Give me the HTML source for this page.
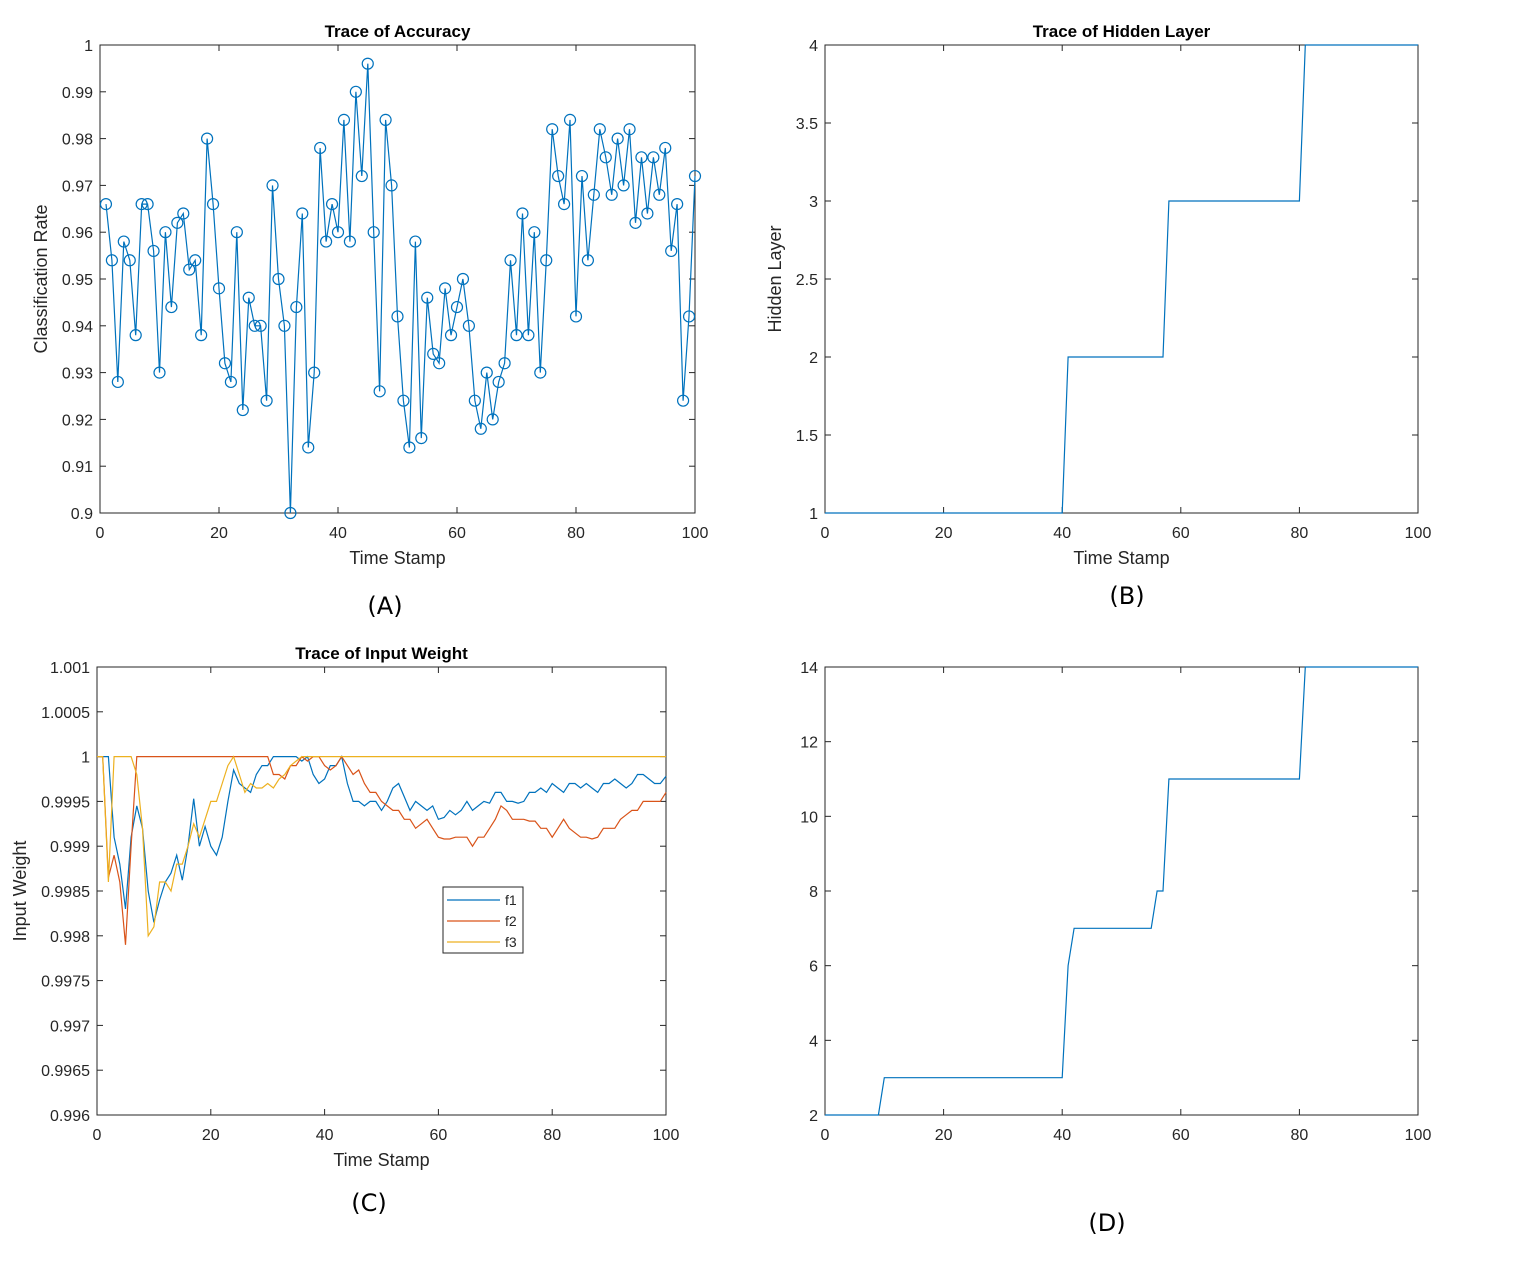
<!DOCTYPE html>
<html><head><meta charset="utf-8"><style>
body{margin:0;background:#fff}
svg{display:block;font-family:"Liberation Sans",Arial,sans-serif}
</style></head><body>
<svg id="s" width="1515" height="1287" xmlns="http://www.w3.org/2000/svg"></svg>
<script>
const timeA=[];for(let i=1;i<=100;i++)timeA.push(i);
const accuracy=[.966,.954,.928,.958,.954,.938,.966,.966,.956,.930,.960,.944,.962,.964,.952,.954,.938,.980,.966,.948,.932,.928,.960,.922,.946,.940,.940,.924,.970,.950,.940,.900,.944,.964,.914,.930,.978,.958,.966,.960,.984,.958,.990,.972,.996,.960,.926,.984,.970,.942,.924,.914,.958,.916,.946,.934,.932,.948,.938,.944,.950,.940,.924,.918,.930,.920,.928,.932,.954,.938,.964,.938,.960,.930,.954,.982,.972,.966,.984,.942,.972,.954,.968,.982,.976,.968,.980,.970,.982,.962,.976,.964,.976,.968,.978,.956,.966,.924,.942,.972];
const timeC=[];for(let i=0;i<=100;i++)timeC.push(i);
const f1=[1,1,1,.9991,.9988,.9983,.9991,.99945,.9992,.9985,.99815,.9984,.9986,.9987,.9989,.99862,.9990,.99953,.9990,.99922,.9990,.9989,.9991,.9995,.99985,.9997,.99965,.9996,.9998,.9999,.9999,1,1,1,1,1,.99995,1,.9998,.9997,.99975,.9999,.9999,1,.9997,.9995,.9995,.99945,.9995,.9995,.9994,.9995,.99965,.9997,.99955,.9994,.9995,.99945,.9994,.99945,.9993,.99932,.9994,.99935,.9994,.9995,.9994,.99945,.9995,.99948,.9996,.9996,.9995,.9995,.99948,.9995,.9996,.9996,.99965,.9996,.9997,.99965,.9996,.9997,.9997,.99965,.9997,.99965,.9996,.9997,.9997,.99975,.9997,.99965,.9997,.9998,.9998,.99975,.9997,.9997,.99978];
const f2=[1,1,.99865,.9989,.9986,.9979,.9990,1,1,1,1,1,1,1,1,1,1,1,1,1,1,1,1,1,1,1,1,1,1,1,1,.9998,.9998,.99975,.9999,.9999,1,.99995,1,1,.9999,.99985,.9999,1,.9999,.9998,.99985,.9997,.9996,.9996,.9995,.99945,.9994,.9994,.9993,.9993,.9992,.99925,.9993,.9992,.9991,.99908,.99908,.9991,.9991,.9991,.9990,.9991,.9991,.9992,.9993,.99945,.9994,.9993,.9993,.9993,.99928,.99928,.9992,.9992,.9991,.9992,.9993,.9992,.99915,.9991,.9991,.99908,.9991,.9992,.9992,.9992,.9993,.99935,.9994,.9994,.9995,.9995,.9995,.9995,.9996];
const f3=[1,1,.9986,1,1,1,1,.9998,.9992,.9980,.9981,.9986,.9986,.9985,.9988,.9988,.9990,.99925,.9991,.9993,.9995,.9995,.9997,.9999,1,.9998,.9996,.9997,.99965,.99965,.9997,.99965,.99975,.9998,.9999,.99995,1,1,1,1,1,1,1,1,1,1,1,1,1,1,1,1,1,1,1,1,1,1,1,1,1,1,1,1,1,1,1,1,1,1,1,1,1,1,1,1,1,1,1,1,1,1,1,1,1,1,1,1,1,1,1,1,1,1,1,1,1,1,1,1,1];
const hidden=[];for(let i=0;i<=100;i++)hidden.push(i<=40?1:i<=57?2:i<=80?3:4);
const nodes=[];for(let i=0;i<=100;i++)nodes.push(i<=9?2:i<=40?3:i==41?6:i<=55?7:i<=57?8:i<=80?11:14);
const ticksX=[0,20,40,60,80,100];
const ticksA=[0.9,0.91,0.92,0.93,0.94,0.95,0.96,0.97,0.98,0.99,1];
const ticksB=[1,1.5,2,2.5,3,3.5,4];
const ticksC=[0.996,0.9965,0.997,0.9975,0.998,0.9985,0.999,0.9995,1,1.0005,1.001];
const ticksD=[2,4,6,8,10,12,14];

const S=document.getElementById('s');const NS='http://www.w3.org/2000/svg';
function el(t,a,p){const e=document.createElementNS(NS,t);for(const k in a)e.setAttribute(k,a[k]);(p||S).appendChild(e);return e;}
function txt(x,y,s,a,p){const e=el('text',Object.assign({x:x,y:y,'font-size':16,fill:'#262626','text-anchor':'middle'},a||{}),p);e.textContent=s;return e;}
function panel(name,L,R,T,B,xmin,xmax,ymin,ymax,yt,title,xl,yl){
 const g=el('g',{});
 
 
 const sx=v=>L+(v-xmin)/(xmax-xmin)*(R-L), sy=v=>B-(v-ymin)/(ymax-ymin)*(B-T);
 el('rect',{x:L,y:T,width:R-L,height:B-T,fill:'#fff',stroke:'#262626','stroke-width':1},g);
 ticksX.forEach(v=>{const x=sx(v);el('line',{x1:x,x2:x,y1:B,y2:B-6,stroke:'#262626'},g);el('line',{x1:x,x2:x,y1:T,y2:T+6,stroke:'#262626'},g);const t=txt(x,B+25,String(v),{},g);});
 yt.forEach(v=>{const y=sy(v);el('line',{x1:L,x2:L+6,y1:y,y2:y,stroke:'#262626'},g);el('line',{x1:R,x2:R-6,y1:y,y2:y,stroke:'#262626'},g);const t=txt(L-7,y+6,String(v),{'text-anchor':'end'},g);});
 if(title){const t=txt((L+R)/2,T-8,title,{'font-weight':'bold','font-size':17,fill:'#000'},g);}
 if(xl){const t=txt((L+R)/2,B+51,xl,{'font-size':18},g);}
 if(yl){const t=txt(0,0,yl,{'font-size':18,transform:`translate(${yl.x},${(T+B)/2}) rotate(-90)`},g);t.textContent=yl.s;}
 return {g,sx,sy};
}
function line(p,xs,ys,col,name){const d=xs.map((x,i)=>(i?'L':'M')+p.sx(x).toFixed(1)+' '+p.sy(ys[i]).toFixed(1)).join('');const e=el('path',{d:d,fill:'none',stroke:col,'stroke-width':1.2},p.g);return e;}

const A=panel('panel-a-accuracy',100,695,45,513,0,100,0.9,1,ticksA,'Trace of Accuracy','Time Stamp',{x:47,s:'Classification Rate'});
line(A,timeA,accuracy,'#0072BD','accuracy-line');
timeA.forEach((x,i)=>{const c=el('circle',{cx:A.sx(x),cy:A.sy(accuracy[i]),r:5.5,fill:'none',stroke:'#0072BD','stroke-width':1.2},A.g);});
const B=panel('panel-b-hidden-layer',825,1418,45,513,0,100,1,4,ticksB,'Trace of Hidden Layer','Time Stamp',{x:781,s:'Hidden Layer'});
line(B,timeC,hidden,'#0072BD','hidden-layer-line');
const C=panel('panel-c-input-weight',97,666,667,1115,0,100,0.996,1.001,ticksC,'Trace of Input Weight','Time Stamp',{x:26,s:'Input Weight'});
line(C,timeC,f1,'#0072BD','f1-line');
line(C,timeC,f2,'#D95319','f2-line');
line(C,timeC,f3,'#EDB120','f3-line');
const lg=el('g',{});


el('rect',{x:443,y:887,width:80,height:66,fill:'#fff',stroke:'#262626'},lg);
[['f1','#0072BD'],['f2','#D95319'],['f3','#EDB120']].forEach((s,i)=>{const y=900+i*21;el('line',{x1:447,x2:500,y1:y,y2:y,stroke:s[1],'stroke-width':1.2},lg);const t=txt(505,y+5,s[0],{'text-anchor':'start','font-size':14},lg);});
const D=panel('panel-d-nodes',825,1418,667,1115,0,100,2,14,ticksD,null,null,null);
line(D,timeC,nodes,'#0072BD','nodes-line');
[['(A)',385,614],['(B)',1127,604],['(C)',369,1211],['(D)',1107,1231]].forEach(l=>{const t=txt(l[1],l[2],l[0],{'font-size':24,fill:'#000',"font-family":'"DejaVu Sans",sans-serif'});});
</script>
</body></html>
